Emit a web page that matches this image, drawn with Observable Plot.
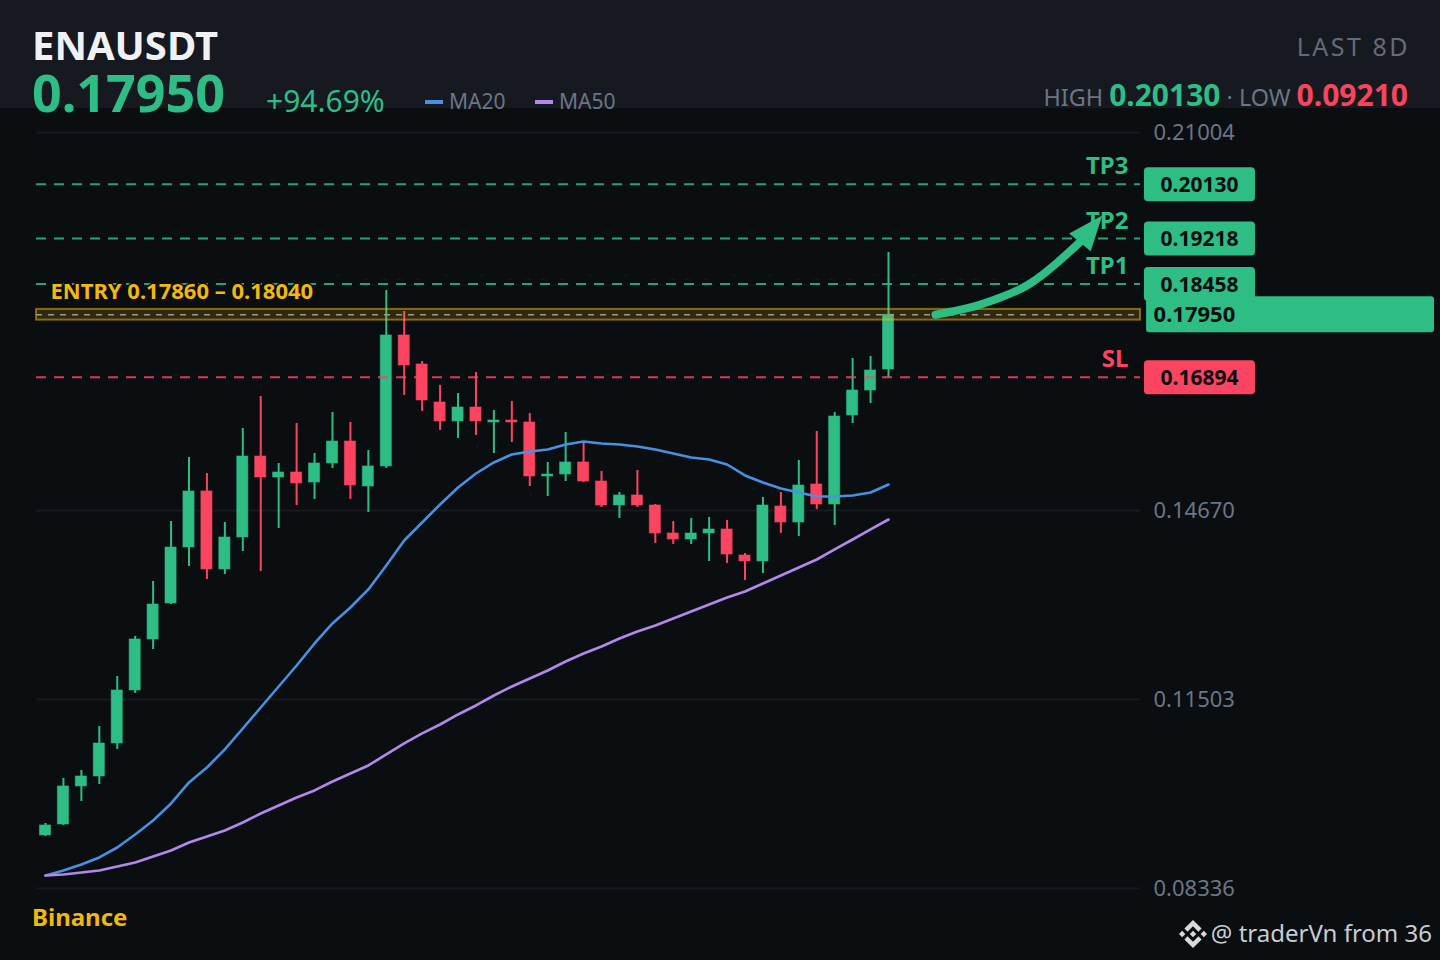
<!DOCTYPE html>
<html>
<head>
<meta charset="utf-8">
<script src="https://cdn.jsdelivr.net/npm/d3@7"></script>
<script src="https://cdn.jsdelivr.net/npm/@observablehq/plot@0.6"></script>
<style>
  html, body { margin: 0; padding: 0; background: #0b0e11; }
  body { width: 1440px; height: 960px; position: relative; overflow: hidden; font-family: "Noto Sans", sans-serif; }
  #head { position: absolute; left: 0; top: 0; width: 1440px; height: 108px; background: #161a20; }
  #chart { position: absolute; left: 0; top: 108px; }
  .t { position: absolute; white-space: nowrap; line-height: 1; z-index: 3; }
  .sw { position: absolute; height: 4px; z-index: 3; }
  #logo { position: absolute; left: 1179px; top: 920px; z-index: 3; }
</style>
</head>
<body>
<div id="head"></div>
<div id="chart"></div>
<div class="t" style="left:32px;top:25px;font-size:40px;font-weight:700;color:#f0f1f4">ENAUSDT</div>
<div class="t" style="left:32px;top:66px;font-size:52px;font-weight:700;color:#2ebd85">0.17950</div>
<div class="t" style="left:266px;top:86px;font-size:30px;color:#2ebd85">+94.69%</div>
<div class="sw" style="left:425px;top:100px;width:18px;background:#4a90e2"></div>
<div class="t" style="left:449px;top:91px;font-size:21px;color:#6b7585">MA20</div>
<div class="sw" style="left:535px;top:100px;width:18px;background:#b388eb"></div>
<div class="t" style="left:559px;top:91px;font-size:21px;color:#6b7585">MA50</div>
<div class="t" style="right:30px;top:34px;font-size:25px;letter-spacing:2.5px;color:#646b78">LAST 8D</div>
<div class="t" style="right:32px;top:80px;font-size:23.4px;color:#6b7585">HIGH <span style="font-size:30px;font-weight:700;color:#2ebd85">0.20130</span> · LOW <span style="font-size:30px;font-weight:700;color:#f6465d">0.09210</span></div>
<div class="t" style="left:32px;top:905px;font-size:24px;font-weight:700;color:#f0b90b">Binance</div>
<svg id="logo" width="28" height="28" viewBox="0 0 126.61 126.61" fill="#d8dade">
  <path d="M38.73 53.2l24.59-24.58 24.6 24.6 14.3-14.31L63.32 0l-38.9 38.9z"/>
  <path d="M0 63.31l14.3-14.31 14.31 14.31-14.31 14.3z"/>
  <path d="M38.73 73.41l24.59 24.59 24.6-24.6 14.31 14.29-38.9 38.91-38.91-38.88z"/>
  <path d="M98 63.31l14.3-14.31 14.31 14.3-14.31 14.32z"/>
  <path d="M77.83 63.3L63.32 48.78 48.81 63.28l14.51 14.5z"/>
</svg>
<div class="t" style="right:8px;top:921px;font-size:24px;color:#c9ccd1">@ traderVn from 36</div>
<script>
const open = [.09225,.09409,.10046,.10213,.10766,.11654,.12509,.13112,.14050,.14989,.13682,.14218,.15575,.15223,.15307,.15139,.15458,.15826,.15072,.15408,.17603,.17117,.16480,.16162,.16396,.16145,.16178,.16145,.15240,.15273,.15475,.15156,.14754,.14922,.14754,.14285,.14184,.14285,.14352,.13916,.13816,.14737,.14469,.15106,.14771,.16262,.16681,.17033];
const high = [.09426,.10180,.10314,.11051,.11889,.12559,.13481,.14486,.15558,.15290,.14469,.16044,.16580,.15458,.16128,.15625,.16312,.16145,.15676,.18357,.18005,.17167,.16765,.16631,.16983,.16346,.16497,.16296,.15475,.15977,.15826,.15324,.14972,.15340,.14771,.14486,.14536,.14553,.14503,.13950,.14888,.14972,.15508,.15994,.16312,.17217,.17251,.18993];
const low = [.09208,.09392,.09794,.10079,.10666,.11604,.12341,.13095,.13732,.13514,.13598,.13983,.13648,.14369,.14754,.14855,.15374,.14855,.14637,.15374,.16597,.16329,.16011,.15877,.15927,.15625,.15810,.15072,.14905,.15156,.15139,.14720,.14536,.14720,.14117,.14101,.14101,.13816,.13782,.13497,.13615,.14285,.14235,.14687,.14419,.16128,.16463,.16899];
const close = [.09392,.10046,.10213,.10766,.11654,.12509,.13095,.14050,.14989,.13682,.14218,.15575,.15223,.15307,.15123,.15458,.15826,.15089,.15408,.17603,.17100,.16513,.16162,.16396,.16162,.16178,.16145,.15240,.15273,.15475,.15156,.14754,.14922,.14754,.14285,.14184,.14285,.14352,.13933,.13816,.14754,.14469,.15089,.14771,.16245,.16681,.17016,.17950];
const ma20 = [.08554,.08638,.08739,.08856,.09023,.09241,.09476,.09761,.10113,.10364,.10666,.11017,.11369,.11721,.12073,.12442,.12777,.13045,.13347,.13749,.14168,.14469,.14771,.15056,.15290,.15475,.15609,.15659,.15692,.15776,.15826,.15793,.15776,.15743,.15692,.15625,.15558,.15525,.15441,.15257,.15139,.15039,.14972,.14905,.14905,.14922,.14972,.15106];
const ma50 = [.08554,.08571,.08605,.08638,.08705,.08772,.08873,.08973,.09107,.09208,.09308,.09442,.09593,.09727,.09861,.09979,.10129,.10264,.10398,.10582,.10766,.10934,.11084,.11252,.11403,.11570,.11721,.11855,.11989,.12140,.12274,.12391,.12525,.12643,.12743,.12861,.12978,.13095,.13212,.13313,.13447,.13581,.13715,.13849,.14017,.14184,.14352,.14519];
const yTicks = [.21004,.14670,.11503,.08336];
const tpLevels = [{name:"TP3",price:.20130},{name:"TP2",price:.19218},{name:"TP1",price:.18458}];
const slLevels = [{name:"SL",price:.16894}];
const currentPrice = .17950;
const entryLow = .17860, entryHigh = .18040;
const arrowX = [49.62,51.57,53.24,54.81,56.42,57.71];
const arrowY = [.17950,.18072,.18239,.18457,.18826,.19178];
const arrowTip = [{x:58.92,y:.19613}];

const GREEN = "#2ebd85", RED = "#fb4560", GOLD = "#f0b90b", BG = "#0b0e11";
const L = -0.5, R = 61.05;           // plot-wide extent, in candle-index units
const PILL1 = 61.27, PILL2 = 67.46, PILLC = 64.34, LABEL = 60.38;
const rows = open.map((o,i) => ({i, o, h:high[i], l:low[i], c:close[i]}));
const up = rows.filter(d => d.c >= d.o), down = rows.filter(d => d.c < d.o);
const fmt = d => d.toFixed(5);

const candle = (data, color) => [
  Plot.ruleX(data, {x:"i", y1:"l", y2:"h", stroke:color, strokeWidth:2}),
  Plot.rect(data, {x1:d=>d.i-.31, x2:d=>d.i+.31, y1:"o", y2:"c", fill:color, stroke:color, strokeOpacity:.55, strokeWidth:1})
];
const pill = (data, color) => [
  Plot.rect(data, {x1:PILL1, x2:PILL2, y1:"price", y2:"price", insetTop:-17, insetBottom:-17, rx:4, fill:color}),
];
const pillText = data => Plot.text(data, {x:PILLC, y:"price", dy:.5, text:d=>fmt(d.price), fill:BG, fontSize:21, fontWeight:700});
const name = (data, color) => Plot.text(data, {x:LABEL, y:"price", dy:-18, text:"name", textAnchor:"end", fill:color, fontSize:24, fontWeight:700});
const dash = (data, color) => Plot.ruleY(data, {y:"price", x1:L, x2:R, dy:-.5, stroke:color, strokeWidth:2, strokeOpacity:.85, strokeDasharray:"10,8"});

const chart = Plot.plot({
  width: 1440, height: 852,
  marginLeft: 0, marginRight: 287, marginTop: 24, marginBottom: 72,
  style: {background:"transparent", fontFamily:"Noto Sans"},
  x: {axis:null, domain:[0,47], range:[45,888]},
  y: {axis:null, domain:[.08336,.21004], range:[780,24]},
  marks: [
    Plot.ruleY(yTicks, {x1:L, x2:R, stroke:"#161a1f", strokeWidth:2}),
    Plot.axisY(yTicks, {anchor:"right", tickSize:0, tickPadding:0, tickFormat:fmt, fill:"#6b7585", fontSize:22, textAnchor:"start"}),
    ...candle(up, GREEN),
    ...candle(down, RED),
    Plot.line(ma20, {x:(d,i)=>i, y:d=>d, stroke:"#4a90e2", strokeWidth:2.6}),
    Plot.line(ma50, {x:(d,i)=>i, y:d=>d, stroke:"#b388eb", strokeWidth:2.6}),
    dash(tpLevels, GREEN),
    dash(slLevels, RED),
    Plot.rect([0], {x1:L, x2:R, y1:entryLow, y2:entryHigh, fill:GOLD, fillOpacity:.16, stroke:GOLD, strokeOpacity:.5, strokeWidth:2}),
    Plot.ruleY([currentPrice], {x1:L, x2:R, stroke:"#9a9a98", strokeWidth:1.5, strokeDasharray:"6,6"}),
    Plot.text([entryHigh], {x:.28, y:d=>d, dy:-17.5, text:()=>"ENTRY 0.17860 – 0.18040", textAnchor:"start", fill:GOLD, fontSize:22, fontWeight:700, stroke:BG, strokeWidth:3}),
    name(tpLevels, GREEN),
    name(slLevels, RED),
    Plot.line(arrowX, {x:d=>d, y:(d,i)=>arrowY[i], curve:"natural", stroke:GREEN, strokeWidth:8, strokeLinecap:"round"}),
    Plot.vector(arrowTip, {x:"x", y:"y", length:35, rotate:39.8, anchor:"end", fill:GREEN, stroke:"none",
      shape:{draw(ctx,l){ctx.moveTo(0,-l);ctx.lineTo(14,0);ctx.lineTo(-14,0);ctx.closePath();}}}),
    ...pill(tpLevels, GREEN),
    ...pill(slLevels, RED),
    pillText(tpLevels),
    pillText(slLevels),
    Plot.rect([currentPrice], {x1:61.39, x2:77.44, y1:d=>d, y2:d=>d, insetTop:-18, insetBottom:-18, rx:3, fill:GREEN}),
    Plot.text([currentPrice], {x:61.78, y:d=>d, text:fmt, textAnchor:"start", fill:BG, fontSize:22, fontWeight:700})
  ]
});
document.getElementById("chart").append(chart);
</script>
</body>
</html>
